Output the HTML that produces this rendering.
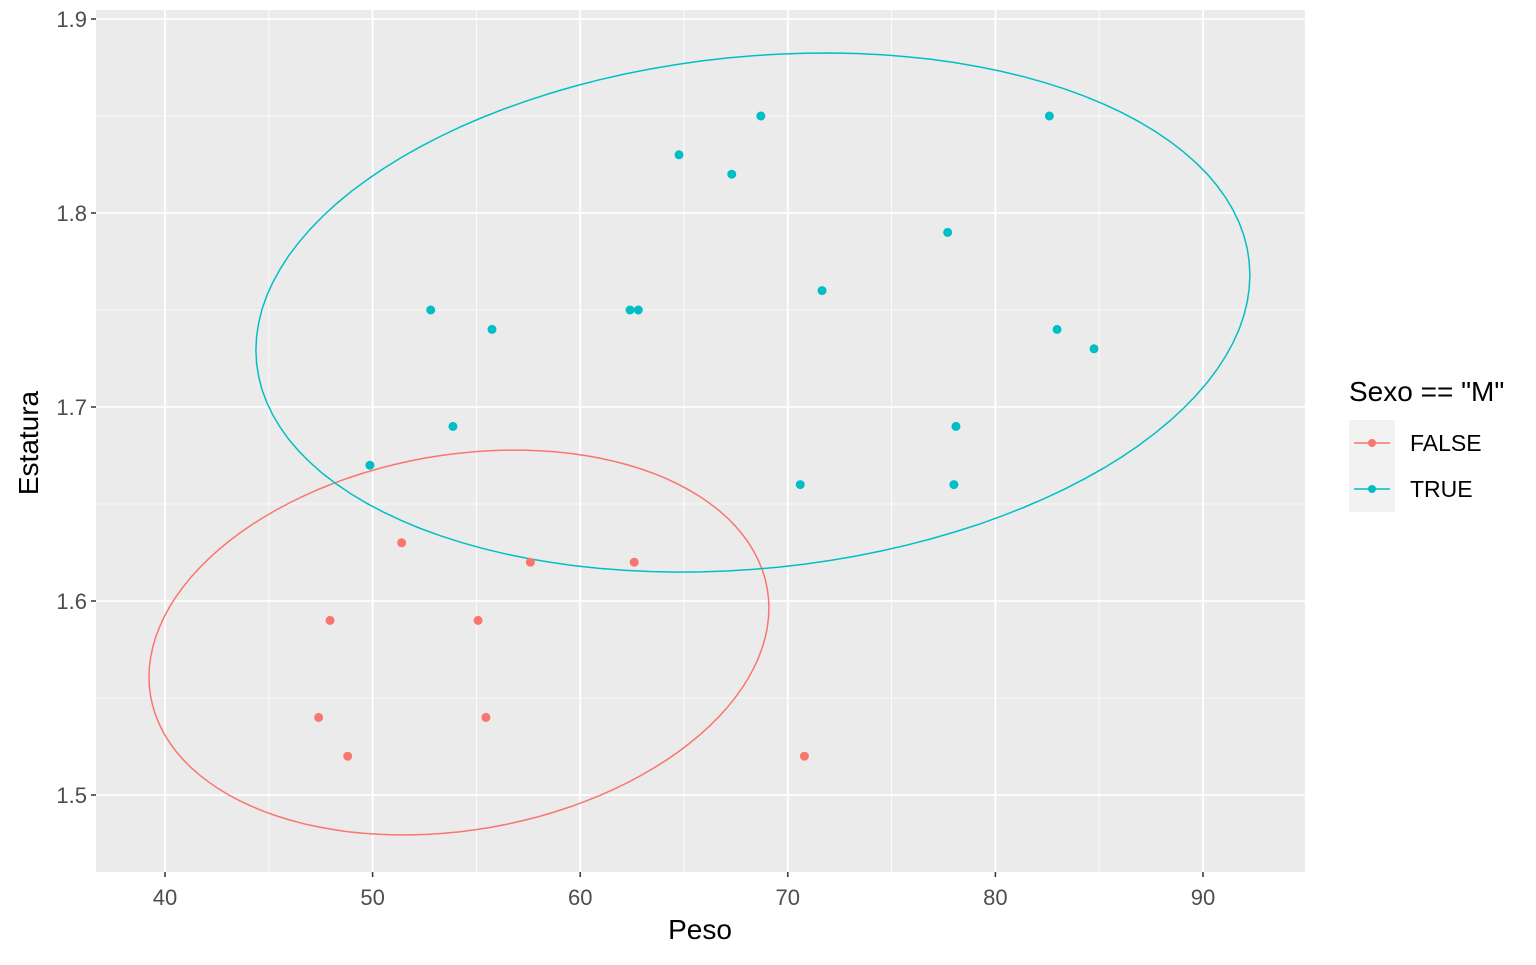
<!DOCTYPE html>
<html><head><meta charset="utf-8"><style>
body{margin:0;background:#fff}
svg text{font-family:"Liberation Sans",Arial,sans-serif}
</style></head><body>
<svg id="chart" width="1536" height="960" xmlns="http://www.w3.org/2000/svg">
<rect width="1536" height="960" fill="#fff"/>
<rect x="96" y="10" width="1209" height="862" fill="#ebebeb"/>
<g id="grid"></g><g id="ellipses"></g><g id="points"></g><g id="axes"></g>
<text x="700" y="939" font-size="28" text-anchor="middle">Peso</text>
<text transform="translate(38,443) rotate(-90)" font-size="28" text-anchor="middle">Estatura</text>
<g>
<text x="1349" y="401" font-size="28">Sexo == "M"</text>
<rect x="1349" y="420" width="46" height="46" fill="#f2f2f2"/>
<rect x="1349" y="466" width="46" height="46" fill="#f2f2f2"/>
<g><line x1="1354" x2="1390" y1="443" y2="443" stroke="#F8766D" stroke-width="1.5"/><circle cx="1372" cy="443" r="4" fill="#F8766D"/><text x="1410" y="451" font-size="23">FALSE</text></g>
<g><line x1="1354" x2="1390" y1="489" y2="489" stroke="#00BFC4" stroke-width="1.5"/><circle cx="1372" cy="489" r="4" fill="#00BFC4"/><text x="1410" y="497" font-size="23">TRUE</text></g>
</g>
</svg>
<script>
const xTicks=[40,50,60,70,80,90];
const xMinor=[45,55,65,75,85];
const yTicks=[1.5,1.6,1.7,1.8,1.9];
const yMinor=[1.55,1.65,1.75,1.85];
const falseX=[47.4,47.95,48.8,51.4,55.08,55.46,57.6,62.6,70.8];
const falseY=[1.54,1.59,1.52,1.63,1.59,1.54,1.62,1.62,1.52];
const trueX=[49.87,52.8,53.87,55.75,62.4,62.8,64.76,67.3,68.7,70.6,71.65,77.7,78.0,78.1,82.6,82.97,84.75];
const trueY=[1.67,1.75,1.69,1.74,1.75,1.75,1.83,1.82,1.85,1.66,1.76,1.79,1.66,1.69,1.85,1.74,1.73];
// ellipse params: center x, center y, x-semi, y-coupling, y-semi
const falseEllipse=[54.16,1.5786,14.93,0.0178,0.0976];
const trueEllipse=[68.32,1.7487,23.94,0.0193,0.1324];
const NS="http://www.w3.org/2000/svg";
const X=v=>165+(v-40)*20.76, Y=v=>19+(1.9-v)*1940;
function mk(t,a,p){const e=document.createElementNS(NS,t);for(const k in a)e.setAttribute(k,a[k]);p.appendChild(e);return e;}
const grid=document.getElementById('grid'),axes=document.getElementById('axes');
xMinor.forEach(v=>{const l=mk('line',{x1:X(v),x2:X(v),y1:10,y2:872,stroke:'#fff','stroke-width':0.8},grid);

});
yMinor.forEach(v=>{const l=mk('line',{x1:96,x2:1305,y1:Y(v),y2:Y(v),stroke:'#fff','stroke-width':0.8},grid);

});
xTicks.forEach(v=>{const l=mk('line',{x1:X(v),x2:X(v),y1:10,y2:872,stroke:'#fff','stroke-width':1.8},grid);


mk('line',{x1:X(v),x2:X(v),y1:872,y2:877,stroke:'#333','stroke-width':1.5},axes);
const t=mk('text',{x:X(v),y:905,'font-size':22,fill:'#4d4d4d','text-anchor':'middle'},axes);t.textContent=v;

});
yTicks.forEach(v=>{const l=mk('line',{x1:96,x2:1305,y1:Y(v),y2:Y(v),stroke:'#fff','stroke-width':1.8},grid);


mk('line',{x1:91,x2:96,y1:Y(v),y2:Y(v),stroke:'#333','stroke-width':1.5},axes);
const t=mk('text',{x:87,y:Y(v)+8,'font-size':22,fill:'#4d4d4d','text-anchor':'end'},axes);t.textContent=v.toFixed(1);

});
function ell(p,col,name){let d='';for(let i=0;i<=120;i++){const t=i/120*2*Math.PI;
const x=p[0]+p[2]*Math.cos(t),y=p[1]+p[3]*Math.cos(t)+p[4]*Math.sin(t);d+=(i?'L':'M')+X(x).toFixed(1)+','+Y(y).toFixed(1);}
const e=mk('path',{d:d,fill:'none',stroke:col,'stroke-width':1.5},document.getElementById('ellipses'));

}
ell(falseEllipse,'#F8766D','ellipse-false');
ell(trueEllipse,'#00BFC4','ellipse-true');
const pts=document.getElementById('points');
falseX.forEach((v,i)=>{const c=mk('circle',{cx:X(v),cy:Y(falseY[i]),r:4.5,fill:'#F8766D'},pts);

});
trueX.forEach((v,i)=>{const c=mk('circle',{cx:X(v),cy:Y(trueY[i]),r:4.5,fill:'#00BFC4'},pts);

});
</script>
</body></html>
